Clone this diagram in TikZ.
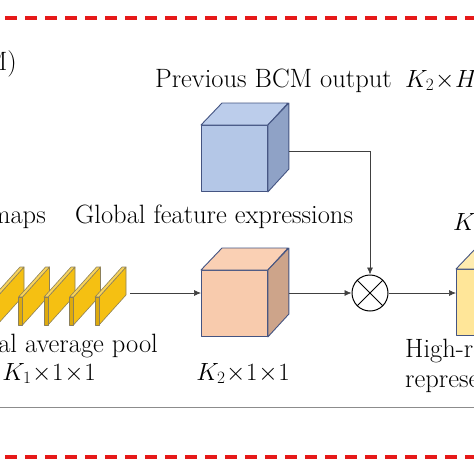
\documentclass[tikz,border=0pt]{standalone}
\usetikzlibrary{arrows.meta}
\definecolor{dashred}{RGB}{230,25,25}
\definecolor{edgeblue}{RGB}{68,84,130}
\definecolor{bluefront}{RGB}{180,199,231}
\definecolor{bluetop}{RGB}{188,205,235}
\definecolor{blueside}{RGB}{143,162,198}
\definecolor{orangefront}{RGB}{248,203,173}
\definecolor{orangetop}{RGB}{250,208,180}
\definecolor{orangeside}{RGB}{205,164,138}
\definecolor{yellowfront}{RGB}{255,230,153}
\definecolor{yellowtop}{RGB}{255,236,175}
\definecolor{slabgold}{RGB}{245,192,18}
\definecolor{slabdark}{RGB}{222,170,12}
\definecolor{slabedge}{RGB}{140,128,90}
%% top and side faces of a cube whose front face is the node #1
\newcommand{\cubefaces}[3]{%
  \draw[face,fill=#2] (#1.north west) -- ++(21,-22) -- ++(66,0) -- (#1.north east) -- cycle;
  \draw[face,fill=#3] (#1.north east) -- ++(21,-22) -- ++(0,66) -- (#1.south east) -- cycle;}
\newcommand{\tm}{\mkern0.5mu{\times}\mkern0.5mu}
\begin{document}
\begin{tikzpicture}[x=1pt,y=-1pt,
    face/.style={draw=edgeblue,line width=0.9pt,line join=round},
    frontface/.style={face,minimum width=66pt,minimum height=66pt,anchor=north west,inner sep=0pt},
    slab/.style={draw=slabedge,line width=0.6pt,line join=round},
    conn/.style={draw=black!75,line width=0.7pt,-{Latex[length=7pt,width=6pt]}},
    lbl/.style={font=\fontsize{26.5}{30}\selectfont,inner sep=0pt},
    dims/.style={font=\fontsize{23}{27}\selectfont,inner sep=0pt}]
    \useasboundingbox (0,0) rectangle (474,474);
    %% red dashed frame and grey rule
    \draw[dashred,line width=3.5pt,dash pattern=on 12pt off 8pt] (-15,18) -- (490,18);
    \draw[dashred,line width=3.5pt,dash pattern=on 12pt off 8pt] (-15,457) -- (490,457);
    \draw[black!45,line width=0.8pt] (0,407) -- (474,407);
    %% feature maps
    \foreach \sx in {-7,18.5,44,69.5,95} {
        \draw[slab,fill=slabgold] (\sx+4,297) -- ++(27,-30) -- ++(0,28) -- ++(-27,30) -- cycle;
        \draw[slab,fill=slabgold!70!white] (\sx,297) -- ++(4,0) -- ++(27,-30) -- ++(-4,0) -- cycle;
        \draw[slab,fill=slabdark] (\sx,297) rectangle ++(4,28);
    }
    \coordinate (maps) at (130,293);
    %% cubes
    \node[frontface,fill=bluefront] (prev) at (201,125) {};
    \cubefaces{prev}{bluetop}{blueside}
    \node[frontface,fill=orangefront] (pool) at (201,270) {};
    \cubefaces{pool}{orangetop}{orangeside}
    \node[frontface,fill=yellowfront] (out) at (456,269) {};
    \cubefaces{out}{yellowtop}{yellowfront}
    %% product
    \node[circle,draw,line width=1pt,minimum size=36pt,inner sep=0pt,
        path picture={\draw[line width=1pt] (path picture bounding box.north west) -- (path picture bounding box.south east)
        (path picture bounding box.north east) -- (path picture bounding box.south west);}] (mul) at (370,293) {};
    %% connectors
    \draw[conn] (maps) -- (maps -| pool.west);
    \draw[conn] ([xshift=21pt]pool.east |- mul.west) -- (mul.west);
    \draw[conn] ([xshift=21pt,yshift=7pt]prev.east) -| (mul.north);
    \draw[conn] (mul.east) -- (mul.east -| out.west);
    %% labels
    \node[lbl,anchor=base east] (title) at (17,70) {(BCM)};
    \node[lbl,anchor=base west] (prevtxt) at (155,87) {Previous BCM output};
    \node[dims,anchor=base west] (prevdim) at (405,87) {$K_2\tm H\tm W$};
    \node[lbl,anchor=base east] (mapstxt) at (46,223) {Feature maps};
    \node[lbl,anchor=base west] (globtxt) at (75,223) {Global feature expressions};
    \node[lbl,anchor=base east] (pooltxt) at (158,352) {Global average pool};
    \node[dims,anchor=base] (mapsdim) at (49,380) {$K_1\tm 1\tm 1$};
    \node[dims,anchor=base] (pooldim) at (243,380) {$K_2\tm 1\tm 1$};
    \node[dims,anchor=base west] (outdim) at (453,230) {$K_2\tm H\tm W$};
    \node[lbl,anchor=base west] (outtxt) at (405,357) {High-resolution};
    \node[lbl,anchor=base west] (outtxt2) at (405,387) {representations};
\end{tikzpicture}
\end{document}
